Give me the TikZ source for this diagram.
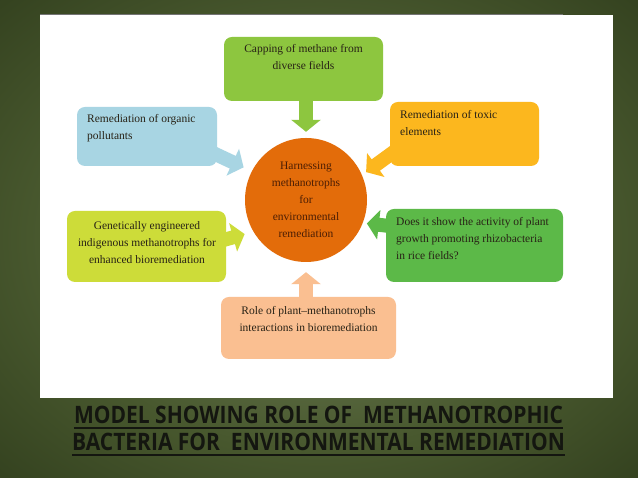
\documentclass[tikz,border=0pt]{standalone}
\usepackage{fontspec}
\setmainfont{Liberation Serif}
\newfontfamily\titlefont{Open Sans}
\usetikzlibrary{arrows.meta,shapes.geometric}

\definecolor{bgdark}{RGB}{34,46,18}
\definecolor{bgmid}{RGB}{72,88,46}
\definecolor{bglight}{RGB}{120,134,96}
\definecolor{capgreen}{RGB}{141,198,63}
\definecolor{organicblue}{RGB}{168,213,227}
\definecolor{toxicorange}{RGB}{252,183,30}
\definecolor{hubcol}{RGB}{227,108,10}
\definecolor{engyellow}{RGB}{205,220,57}
\definecolor{ricegreen}{RGB}{92,185,72}
\definecolor{plantpeach}{RGB}{250,191,145}
\definecolor{inktext}{RGB}{40,34,22}
\definecolor{hubink}{RGB}{76,30,4}
\definecolor{titleink}{RGB}{20,22,16}

\pgfdeclareradialshading{olivebg}{\pgfpoint{0bp}{0bp}}{%
  color(0bp)=(bglight); color(22bp)=(bgmid); color(48bp)=(bgdark); color(70bp)=(bgdark)}

\begin{document}
\begin{tikzpicture}[x=1pt,y=1pt,
    box/.style={rounded corners=8pt, inner sep=0pt},
    boxtext/.style={font=\fontsize{11.5}{17}\selectfont, text=inktext, inner sep=0pt},
    callout/.style={line width=14pt, -{Triangle[length=12pt,width=29pt]}},
    title/.style={font=\titlefont\bfseries\fontsize{24}{28}\selectfont, text=titleink, inner sep=0pt, anchor=base},
    titlerule/.style={line width=1.2pt, titleink}]
  \useasboundingbox (0,0) rectangle (638,478);
  \shade [shading=olivebg] (0,0) rectangle (638,478);
  \fill [white] (40,80) rectangle (613,463);
  \draw [line width=1pt, black!55] (40,463) -- (563,463);

  \node [box, fill=capgreen, minimum width=159pt, minimum height=64pt] (cap) at (303.5,409) {};
  \node [box, fill=organicblue, minimum width=140pt, minimum height=59pt] (organic) at (147,341.5) {};
  \node [box, fill=toxicorange, minimum width=149pt, minimum height=64pt] (toxic) at (464.5,344) {};
  \node [box, fill=engyellow, minimum width=159pt, minimum height=71pt] (engineered) at (146.5,231.5) {};
  \node [box, fill=ricegreen, minimum width=177pt, minimum height=73pt] (rice) at (474.5,232.5) {};
  \node [box, fill=plantpeach, minimum width=175pt, minimum height=62pt] (plant) at (308.5,150) {};

  \node [ellipse, fill=hubcol, minimum width=122pt, minimum height=124pt, boxtext, text=hubink, align=center]
    (hub) at (306,278) {Harnessing\\methanotrophs\\for\\environmental\\remediation};

  \draw [callout, capgreen, shorten >=6pt] (cap.south -| hub.north) -- (hub.north);
  \draw [callout, plantpeach, shorten >=10pt] (plant.north -| hub.south) -- (hub.south);
  \draw [callout, organicblue, shorten >=9pt] ([shift={(-8,15)}]organic.south east) -- (hub.152);
  \draw [callout, toxicorange, shorten >=5pt] ([shift={(8,-15)}]toxic.west) -- (hub.24);
  \draw [callout, engyellow, shorten >=9pt] ([shift={(-8,5)}]engineered.east) -- (hub.211);
  \draw [callout, ricegreen, shorten >=4pt] ([shift={(8,19)}]rice.west) -- (hub.-22);

  \node [boxtext, anchor=north, align=center] (captext) at (303.5,434)
    {Capping of methane from\\diverse fields};
  \node [boxtext, anchor=north west, align=left] (organictext) at (87,364)
    {Remediation of organic\\pollutants};
  \node [boxtext, anchor=north west, align=left] (toxictext) at (400,368)
    {Remediation of toxic\\elements};
  \node [boxtext, anchor=north, align=center] (engtext) at (147,257)
    {Genetically engineered\\indigenous methanotrophs for\\enhanced bioremediation};
  \node [boxtext, anchor=north west, align=left] (ricetext) at (396,261)
    {Does it show the activity of plant\\growth promoting rhizobacteria\\in rice fields?};
  \node [boxtext, anchor=north, align=center] (planttext) at (308.5,172)
    {Role of plant--methanotrophs\\interactions in bioremediation};

  \node [title] (line1) at (318.5,54) {\scalebox{0.875}[1]{MODEL SHOWING ROLE OF\ \ METHANOTROPHIC}};
  \node [title] (line2) at (318.5,27) {\scalebox{0.875}[1]{BACTERIA FOR\ \ ENVIRONMENTAL REMEDIATION}};
  \draw [titlerule] ([yshift=-4pt]line1.base west) -- ([yshift=-4pt]line1.base east);
  \draw [titlerule] ([yshift=-4pt]line2.base west) -- ([yshift=-4pt]line2.base east);
\end{tikzpicture}
\end{document}
